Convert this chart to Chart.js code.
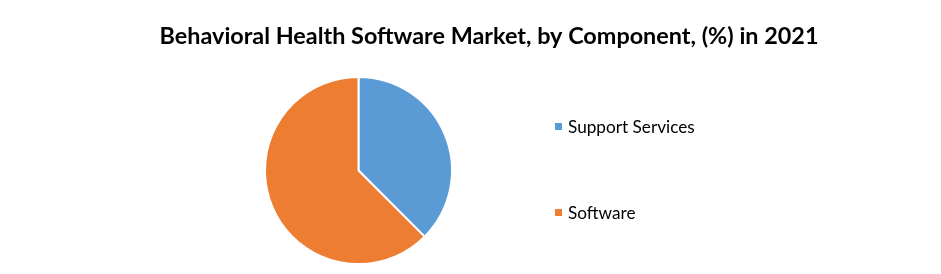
<!DOCTYPE html>
<html>
<head>
<meta charset="utf-8">
<script src="https://cdn.jsdelivr.net/npm/chart.js@4"></script>
<style>
  html, body { margin: 0; padding: 0; background: #fff; }
  #wrap { width: 941px; height: 274px; position: relative; }
</style>
</head>
<body>
<div id="wrap"><canvas id="chart"></canvas></div>
<script>
const chartTitle = 'Behavioral Health Software Market, by Component, (%) in 2021';
const categories = ['Support Services', 'Software'];
const shares = [37.5, 62.5];
const sliceColors = ['#5B9BD5', '#ED7D31'];

// size a font so the text spans roughly the width it has in the original
function fitFont(ctx, text, weight, family, width) {
  ctx.font = weight + ' 20px ' + family;
  const px = 20 * width / ctx.measureText(text).width;
  return weight + ' ' + px.toFixed(1) + 'px ' + family;
}

// legend + title drawn by hand so they sit where the original puts them
const sideText = {
  id: 'sideText',
  afterDraw(chart) {
    const ctx = chart.ctx;
    ctx.save();
    ctx.fillStyle = '#000';
    ctx.font = fitFont(ctx, chartTitle, 'bold', 'Lato, sans-serif', 658);
    ctx.textAlign = 'center';
    ctx.textBaseline = 'middle';
    ctx.fillText(chartTitle, 489, 36);

    ctx.font = fitFont(ctx, categories[0], 'normal', 'Lato, sans-serif', 127);
    ctx.textAlign = 'left';
    const rows = [127, 213];
    categories.forEach((name, i) => {
      ctx.fillStyle = sliceColors[i];
      ctx.fillRect(555, rows[i] - 4, 7, 7);
      ctx.fillStyle = '#000';
      ctx.fillText(name, 568, rows[i]);
    });
    ctx.restore();
  }
};

new Chart(document.getElementById('chart'), {
  type: 'pie',
  data: {
    labels: categories,
    datasets: [{
      data: shares,
      backgroundColor: sliceColors,
      borderColor: '#fff',
      borderWidth: 2
    }]
  },
  options: {
    responsive: true,
    maintainAspectRatio: false,
    animation: false,
    layout: { padding: { left: 264, right: 488, top: 75, bottom: 8 } },
    plugins: {
      legend: { display: false },
      title: { display: false },
      tooltip: { enabled: false }
    }
  },
  plugins: [sideText]
});
</script>
</body>
</html>
